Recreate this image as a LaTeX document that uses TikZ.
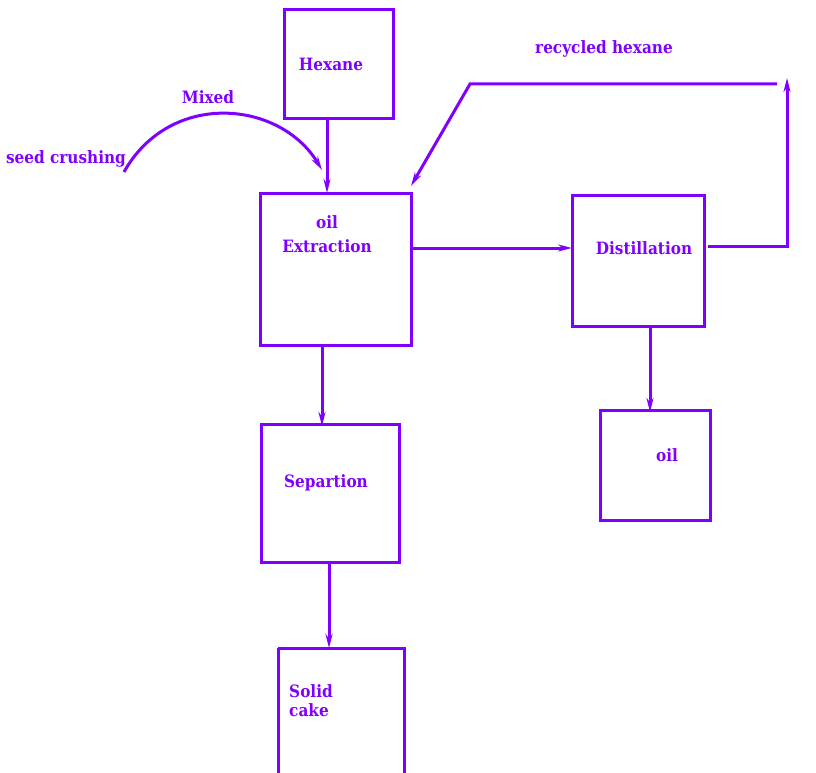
\documentclass[tikz,border=0pt]{standalone}
\usepackage{fontspec}
\setmainfont{DejaVu Serif Condensed}
\usetikzlibrary{arrows.meta}
\definecolor{vio}{HTML}{7F00FF}
\begin{document}
\begin{tikzpicture}[x=1pt,y=-1pt,
  box/.style={draw=vio,line width=3pt},
  lab/.style={text=vio,font=\bfseries\fontsize{17}{21}\selectfont,inner sep=0pt},
  arr/.style={draw=vio,line width=3pt,-{Stealth[length=14pt,width=7pt]}}]
\useasboundingbox (0,0) rectangle (816,773);
\draw[box] (284,10) rectangle (393,119); \coordinate (hb) at (327,119);
\node[lab] (hex) at (331,64) {Hexane};
\draw[box] (260,193) rectangle (411,345);
\node[lab] (oil1) at (327,222) {oil};
\node[lab] (ext) at (327,246) {Extraction};
\draw[box] (572,195) rectangle (704,326);
\node[lab,fill=white,inner sep=2pt] (dist) at (644,248) {Distillation};
\draw[box] (261,424) rectangle (399,562);
\node[lab] (sep) at (326,483) {Separtion};
\draw[box] (600,410) rectangle (710,520);
\node[lab] (oil2) at (667,455) {oil};
\draw[box] (278,648) -- (278,776) (278,648) -- (404,648) -- (404,776);
\node[lab,align=left,anchor=west] (cake) at (289,701) {Solid\\[-2pt]cake};
\node[lab] (mixed) at (208,97) {Mixed};
\node[lab] (seed) at (66,159) {seed crushing};
\node[lab] (rec) at (604,49) {recycled hexane};
\coordinate (a1) at (327,119); \coordinate (a2) at (327,193);
\coordinate (b1) at (411,248); \coordinate (b2) at (572,248);
\coordinate (c1) at (322,345); \coordinate (c2) at (322,426);
\coordinate (d1) at (329,562); \coordinate (d2) at (329,648);
\coordinate (e1) at (650,326); \coordinate (e2) at (650,412);
\coordinate (r1) at (708,246); \coordinate (r2) at (787,246); \coordinate (r3) at (787,78);
\coordinate (s1) at (777,84); \coordinate (s2) at (470,84); \coordinate (s3) at (411,186);
\coordinate (m1) at (124,172); \coordinate (m2) at (322,170);
\draw[arr] (a1) -- (a2);
\draw[arr] (b1) -- (b2);
\draw[arr] (c1) -- (c2);
\draw[arr] (d1) -- (d2);
\draw[arr] (e1) -- (e2);
\draw[arr] (r1) -- (r2) -- (r3);
\draw[arr] (s1) -- (s2) -- (s3);
\draw[arr] (m1) .. controls (170,90) and (280,100) .. (m2);
\end{tikzpicture}
\end{document}
